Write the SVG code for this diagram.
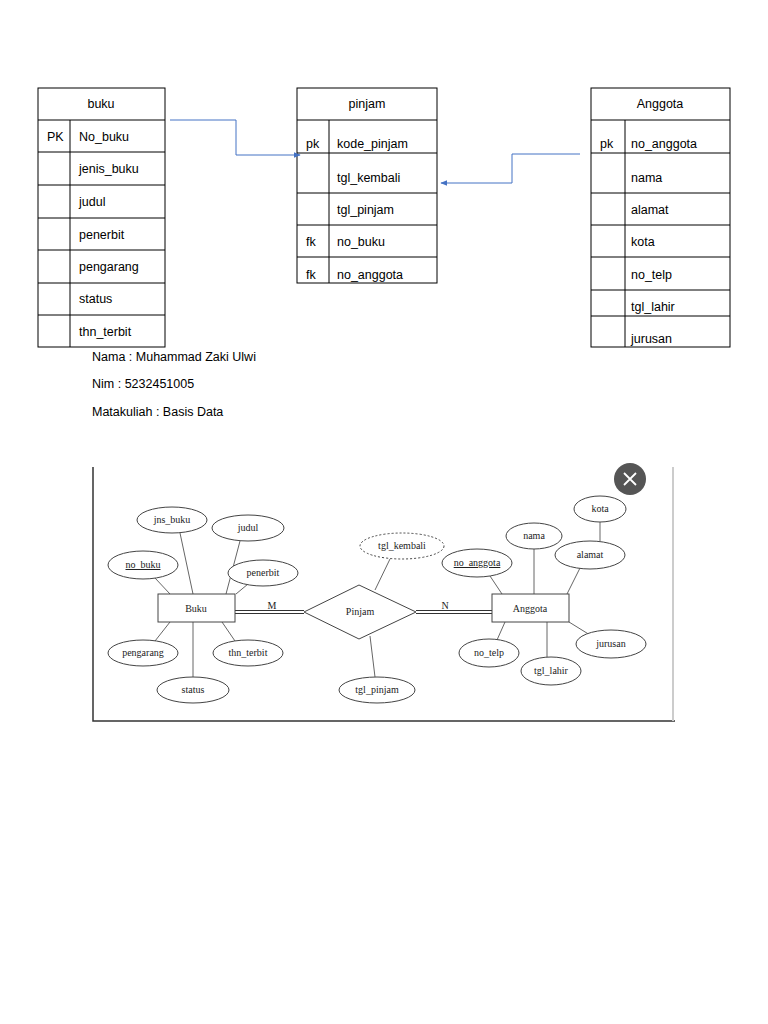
<svg xmlns="http://www.w3.org/2000/svg" width="768" height="1024" viewBox="0 0 768 1024">
<defs>
<style>
.t{font-family:"Liberation Sans",Arial,sans-serif;font-size:12.5px;fill:#000}
.s{font-family:"Liberation Serif","Times New Roman",serif;font-size:10px;fill:#222;text-anchor:middle}
.b{fill:none;stroke:#000;stroke-width:1}
.e{fill:#fff;stroke:#444;stroke-width:1}
.l{stroke:#666;stroke-width:1;fill:none}
.a{stroke:#4472c4;stroke-width:1;fill:none}
</style>
<marker id="ar" viewBox="0 0 10 10" refX="9" refY="5" markerWidth="7" markerHeight="7" orient="auto"><path d="M0,1 L10,5 L0,9z" fill="#4472c4"/></marker>
</defs>
<rect width="768" height="1024" fill="#fff"/>
<g id="buku">
<rect class="b" x="38" y="88" width="127" height="259"/>
<path class="b" d="M38,120H165M38,152H165M38,185H165M38,218H165M38,250H165M38,283H165M38,315H165M70,120V347"/>
<text class="t" x="101" y="108" text-anchor="middle">buku</text>
<text class="t" x="47" y="141">PK</text>
<text class="t" x="79" y="141">No_buku</text>
<text class="t" x="79" y="173">jenis_buku</text>
<text class="t" x="79" y="206">judul</text>
<text class="t" x="79" y="239">penerbit</text>
<text class="t" x="79" y="271">pengarang</text>
<text class="t" x="79" y="303">status</text>
<text class="t" x="79" y="336">thn_terbit</text>
</g>
<g id="pinjam">
<rect class="b" x="297" y="88" width="140" height="195"/>
<path class="b" d="M297,120H437M297,153H437M297,193H437M297,225H437M297,257H437M329,120V283"/>
<text class="t" x="367" y="108" text-anchor="middle">pinjam</text>
<text class="t" x="306" y="148">pk</text><text class="t" x="337" y="148">kode_pinjam</text>
<text class="t" x="337" y="182">tgl_kembali</text>
<text class="t" x="337" y="214">tgl_pinjam</text>
<text class="t" x="306" y="246">fk</text><text class="t" x="337" y="246">no_buku</text>
<text class="t" x="306" y="279">fk</text><text class="t" x="337" y="279">no_anggota</text>
</g>
<g id="anggota">
<rect class="b" x="591" y="88" width="139" height="259"/>
<path class="b" d="M591,120H730M591,153H730M591,193H730M591,225H730M591,257H730M591,290H730M591,316H730M625,120V347"/>
<text class="t" x="660" y="108" text-anchor="middle">Anggota</text>
<text class="t" x="600" y="148">pk</text><text class="t" x="631" y="148">no_anggota</text>
<text class="t" x="631" y="182">nama</text>
<text class="t" x="631" y="214">alamat</text>
<text class="t" x="631" y="246">kota</text>
<text class="t" x="631" y="279">no_telp</text>
<text class="t" x="631" y="311">tgl_lahir</text>
<text class="t" x="631" y="343">jurusan</text>
</g>
<g id="connectors">
<path class="a" d="M170,120H236V155H300" marker-end="url(#ar)"/>
<path class="a" d="M580,154H512V183H441" marker-end="url(#ar)"/>
</g>
<g id="info">
<text class="t" x="92" y="361">Nama : Muhammad Zaki Ulwi</text>
<text class="t" x="92" y="388">Nim : 5232451005</text>
<text class="t" x="92" y="416">Matakuliah : Basis Data</text>
</g>
<g id="er-image">
<path d="M93,467V721H675" stroke="#333" stroke-width="1.5" fill="none"/>
<path d="M673,467V721" stroke="#ccc" stroke-width="2" fill="none"/>
<circle cx="630" cy="479" r="16" fill="#555"/>
<path d="M624,473L636,485M636,473L624,485" stroke="#fff" stroke-width="1.8"/>
<g id="er-lines">
<path class="l" d="M180,533L193,594M240,541L226,594M155,578L170,594M248,584L236,594M170,622L155,641M193,622V677M222,622L235,641M390,559L375,590M370,636L375,677M502,594L490,576M534,549V594M567,594L580,568M600,522V541M569,622L590,635M505,622L497,640M547,622V657"/>
<path d="M235,610.5H304M235,613.5H304M416,610.5H492M416,613.5H492" stroke="#333" stroke-width="1.2"/>
</g>
<rect x="158" y="594" width="77" height="28" class="e"/>
<text class="s" x="196" y="612">Buku</text>
<rect x="492" y="594" width="77" height="28" class="e"/>
<text class="s" x="530" y="612">Anggota</text>
<path d="M304,612L359,585L416,612L359,639Z" class="e"/>
<text class="s" x="360" y="615">Pinjam</text>
<text class="s" x="272" y="609">M</text>
<text class="s" x="445" y="609">N</text>
<ellipse class="e" cx="172" cy="520" rx="35" ry="13"/><text class="s" x="172" y="523">jns_buku</text>
<ellipse class="e" cx="248" cy="528" rx="36" ry="13"/><text class="s" x="248" y="531">judul</text>
<ellipse class="e" cx="143" cy="565" rx="35" ry="14"/><text class="s" x="143" y="568" text-decoration="underline">no_buku</text>
<ellipse class="e" cx="263" cy="573" rx="35" ry="13"/><text class="s" x="263" y="576">penerbit</text>
<ellipse class="e" cx="143" cy="653" rx="35" ry="13"/><text class="s" x="143" y="656">pengarang</text>
<ellipse class="e" cx="248" cy="653" rx="35" ry="13"/><text class="s" x="248" y="656">thn_terbit</text>
<ellipse class="e" cx="193" cy="690" rx="36" ry="13"/><text class="s" x="193" y="693">status</text>
<ellipse class="e" cx="402" cy="546" rx="42" ry="13" stroke-dasharray="2,2"/><text class="s" x="402" y="549">tgl_kembali</text>
<ellipse class="e" cx="377" cy="690" rx="38" ry="13"/><text class="s" x="377" y="693">tgl_pinjam</text>
<ellipse class="e" cx="477" cy="563" rx="35" ry="14"/><text class="s" x="477" y="566" text-decoration="underline">no_anggota</text>
<ellipse class="e" cx="534" cy="536" rx="28" ry="13"/><text class="s" x="534" y="539">nama</text>
<ellipse class="e" cx="600" cy="509" rx="26" ry="13"/><text class="s" x="600" y="512">kota</text>
<ellipse class="e" cx="590" cy="555" rx="35" ry="14"/><text class="s" x="590" y="558">alamat</text>
<ellipse class="e" cx="611" cy="644" rx="35" ry="14"/><text class="s" x="611" y="647">jurusan</text>
<ellipse class="e" cx="489" cy="653" rx="30" ry="14"/><text class="s" x="489" y="656">no_telp</text>
<ellipse class="e" cx="551" cy="671" rx="30" ry="14"/><text class="s" x="551" y="674">tgl_lahir</text>
</g>
</svg>
